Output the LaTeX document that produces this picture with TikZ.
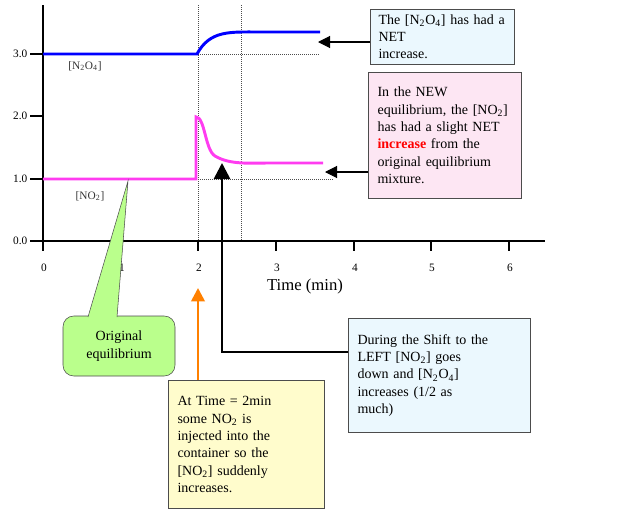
\documentclass[tikz,border=0pt]{standalone}
\usepackage{fontspec}
\setmainfont{Liberation Serif}
\usetikzlibrary{arrows.meta}
\definecolor{pinkline}{RGB}{255,60,240}
\begin{document}
\begin{tikzpicture}[x=0.75pt,y=-0.75pt,
 txt/.style={font=\fontsize{10.5}{13}\selectfont,align=left,inner sep=0pt},
 box/.style={draw=black!70,line width=0.8pt},
 tick/.style={font=\fontsize{8.5}{10}\selectfont,inner sep=1pt},
 dot/.style={densely dotted,line width=0.5pt,black!70},
 arr/.style={-{Triangle[length=9pt,width=9pt]},line width=0.8pt}]
\useasboundingbox (0,0) rectangle (626,518);
% dotted guides
\draw[dot] (198,5) -- (198,241);
\draw[dot] (241,5) -- (241,241);
\draw[dot] (198,54) -- (320,54);
\draw[dot] (198,179) -- (333,179);
% axes
\draw[line width=1.5pt] (43,5) -- (43,250);
\draw[line width=1.5pt] (30,241) -- (545,241);
\foreach \y/\l in {54/3.0,116/2.0,179/1.0,241/0.0}{
 \draw[line width=1.2pt] (30,\y) -- (43,\y);
 \node[tick,anchor=east] (yl\l) at (29,\y) {\l};}
\foreach \x/\l in {43/0,121/1,198/2,276/3,354/4,431/5,509/6}{
 \draw[line width=1.2pt] (\x,241) -- (\x,251);
 \node[tick] (xl\l) at (\x+1,268) {\l};}
\node[font=\fontsize{12.5}{14}\selectfont,inner sep=0pt] (tm) at (305,286) {Time (min)};
% curves
\draw[blue,line width=2.2pt] (43,54) -- (197,54) .. controls (210,30) and (230,32) .. (260,32) -- (320,32);
\draw[pinkline,line width=2.2pt] (43,179) -- (196,179) -- (196,117) .. controls (205,117) and (205,150) .. (215,156) .. controls (230,165) and (250,163) .. (270,163) -- (323,163);
\node[tick,black!80] (n2o4) at (85,66) {[N\textsubscript{2}O\textsubscript{4}]};
\node[tick,black!80] (no2) at (90,196) {[NO\textsubscript{2}]};
% top box
\node[box,fill=cyan!8,txt,anchor=north west,text width=128*0.75pt,inner xsep=8*0.75pt,inner ysep=5*0.75pt,minimum height=45*0.75pt] (b1) at (370,9) {The [N\textsubscript{2}O\textsubscript{4}] has had a NET\\increase.};
\coordinate (a1) at (318,42);
\draw[arr] (b1.west|-a1) -- (a1);
% pink box
\node[box,fill=magenta!10,txt,anchor=north west,text width=135*0.75pt,inner xsep=9*0.75pt,inner ysep=8*0.75pt,minimum height=126*0.75pt] (b2) at (368,72) {In the NEW\\equilibrium, the [NO\textsubscript{2}]\\has had a slight NET\\{\color{red}\textbf{increase}} from the\\original equilibrium\\mixture.};
\coordinate (a2) at (325,172);
\draw[arr] (b2.west|-a2) -- (a2);
% green callout
\node[draw=black!70,fill=green!60!yellow!45,rounded corners=8pt,txt,align=center,minimum width=112*0.75pt,minimum height=60*0.75pt] (g) at (119,346) {Original\\equilibrium};
\coordinate (gp) at (128,181);
\fill[green!60!yellow!45] (88,317) -- (gp) -- (117,317) -- cycle;
\draw[black!70] (88,317) -- (gp) -- (117,317);
% yellow box
\node[box,fill=yellow!20,txt,anchor=north west,text width=138*0.75pt,inner xsep=9*0.75pt,inner ysep=8*0.75pt,minimum height=128*0.75pt] (y) at (168,380) {At Time = 2min\\some NO\textsubscript{2} is\\injected into the\\container so the\\{}[NO\textsubscript{2}] suddenly\\increases.};
\coordinate (oa) at (198,288);
\draw[-{Triangle[length=10pt,width=10pt]},orange,line width=2pt] (y.north-|oa) -- (oa);
% blue box
\node[box,fill=cyan!8,txt,anchor=north west,text width=164*0.75pt,inner xsep=9*0.75pt,inner ysep=8*0.75pt,minimum height=114*0.75pt] (bb) at (348,318) {During the Shift to the\\LEFT [NO\textsubscript{2}] goes\\down and [N\textsubscript{2}O\textsubscript{4}]\\increases (1/2 as\\much)};
\coordinate (ba) at (222,163);
\draw[-{Triangle[length=12pt,width=12pt]},line width=2pt] (bb.west|-0,352) -- (222,352) -- (ba);
\end{tikzpicture}
\end{document}
